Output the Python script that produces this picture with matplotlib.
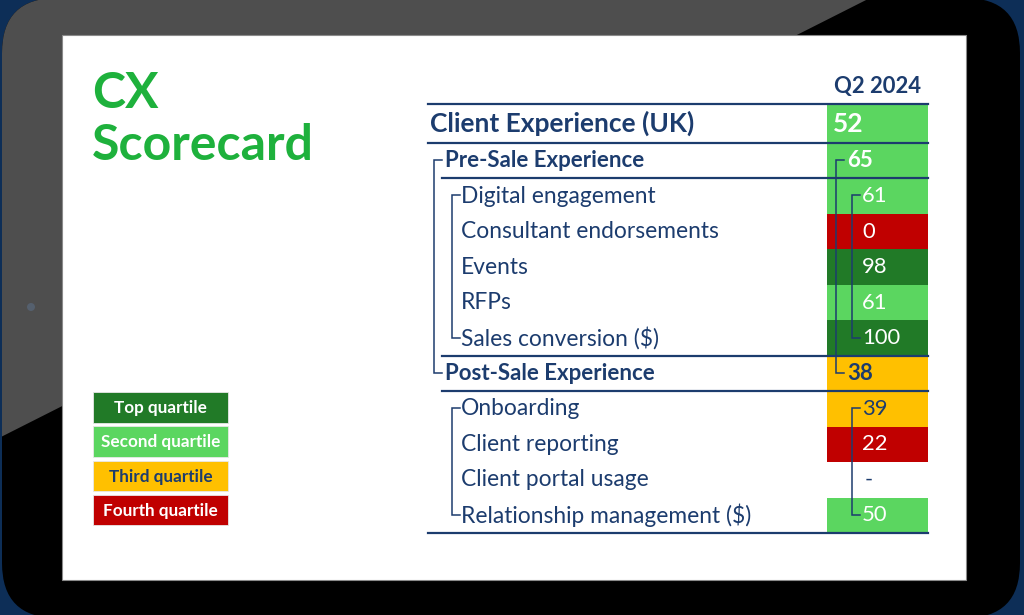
import numpy as np
import matplotlib
matplotlib.use("Agg")
import matplotlib.pyplot as plt
from matplotlib.patches import Rectangle, FancyBboxPatch, Polygon, Circle

plt.rcParams['font.family'] = ['Lato', 'DejaVu Sans']

# data
labels = ["Client Experience (UK)", "Pre-Sale Experience", "Digital engagement",
          "Consultant endorsements", "Events", "RFPs", "Sales conversion ($)",
          "Post-Sale Experience", "Onboarding", "Client reporting",
          "Client portal usage", "Relationship management ($)"]
levels = [0, 1, 2, 2, 2, 2, 2, 1, 2, 2, 2, 2]
values = [52, 65, 61, 0, 98, 61, 100, 38, 39, 22, None, 50]
quartiles = [2, 2, 2, 4, 1, 2, 1, 3, 3, 4, None, 2]
period = "Q2 2024"
legend_labels = ["Top quartile", "Second quartile", "Third quartile", "Fourth quartile"]

# colours
navy = "#1c3c6e"
q_colors = {1: "#217a27", 2: "#5bd660", 3: "#ffc000", 4: "#c00000"}
q_text = {1: "white", 2: "white", 3: navy, 4: "white"}

fig = plt.figure(figsize=(10.24, 6.15), dpi=100)
fig.patch.set_facecolor("#0d2e57")
ax = fig.add_axes([0, 0, 1, 1])
ax.set_xlim(0, 1024)
ax.set_ylim(615, 0)
ax.axis("off")

# tablet body + reflection + screen
body = FancyBboxPatch((2, -2), 1018, 620, boxstyle="round,pad=0,rounding_size=55",
                      fc="black", ec="none", zorder=0)
ax.add_patch(body)
refl = Polygon([(-5, -5), (876, -5), (-5, 440)], closed=True, fc="#4e4e4e", ec="none", zorder=1)
ax.add_patch(refl)
refl.set_clip_path(body)
ax.add_patch(Circle((31, 307), 4, fc="#55606e", ec="none", zorder=1))
ax.add_patch(Rectangle((62, 35), 904, 545, fc="white", ec="#8a8a8a", lw=0.8, zorder=2))

# title
ax.text(92, 93, "CX", color="#1eb13c", fontsize=36, fontweight="bold", va="center", zorder=5)
ax.text(92, 145, "Scorecard", color="#1eb13c", fontsize=36, fontweight="bold", va="center", zorder=5)

# legend
for i, lab in enumerate(legend_labels):
    y0 = 392 + i * 34.3
    ax.add_patch(Rectangle((93, y0), 135, 30.5, fc=q_colors[i + 1], ec="#e8e8e8", lw=0.6, zorder=3))
    ax.text(160.5, y0 + 16, lab, color=q_text[i + 1], fontsize=12.3, fontweight="bold",
            ha="center", va="center", zorder=5)

# table geometry
x_left, x_sub, x_right = 428, 442, 928
cell_x0 = 827
top = 104
head_h = 39
row_h = 35.45
edges = [top, top + head_h] + [top + head_h + row_h * (k + 1) for k in range(len(labels) - 1)]
centers = [(edges[k] + edges[k + 1]) / 2 for k in range(len(labels))]

ax.text(877, 87, period, color=navy, fontsize=15.8, fontweight="bold", ha="center", va="center", zorder=5)

label_x = {0: 430, 1: 445, 2: 461}
value_x = {0: 833, 1: 847, 2: 862}
label_fs = {0: 19, 1: 16, 2: 16.4}
value_fs = {0: 19, 1: 16, 2: 15.8}

for k, lab in enumerate(labels):
    lv = levels[k]
    q = quartiles[k]
    if q is not None:
        ax.add_patch(Rectangle((cell_x0, edges[k]), x_right - cell_x0, edges[k + 1] - edges[k],
                               fc=q_colors[q], ec="none", zorder=3))
    bold = "bold" if lv < 2 else "normal"
    ax.text(label_x[lv], centers[k], lab, color=navy, fontsize=label_fs[lv], fontweight=bold,
            va="center", zorder=5)
    vtxt = "-" if values[k] is None else str(values[k])
    vcol = navy if q is None else q_text[q]
    ax.text(value_x[lv] + (3 if values[k] is None else 0), centers[k], vtxt, color=vcol,
            fontsize=value_fs[lv], fontweight=bold, va="center", zorder=5)

# horizontal rules
lw_rule = 1.6
ax.plot([x_left, x_right], [edges[0], edges[0]], color=navy, lw=lw_rule, zorder=4)
ax.plot([x_left, x_right], [edges[1], edges[1]], color=navy, lw=lw_rule, zorder=4)
ax.plot([x_left, x_right], [edges[-1], edges[-1]], color=navy, lw=lw_rule, zorder=4)
for k, lv in enumerate(levels):
    if lv == 1:
        for e in (edges[k], edges[k + 1]):
            if e != edges[1]:
                ax.plot([x_sub, x_right], [e, e], color=navy, lw=lw_rule, zorder=4)


def bracket(x, y0, y1, tick=8):
    ax.plot([x + tick, x, x, x + tick], [y0, y0, y1, y1], color=navy, lw=1.1, zorder=6,
            solid_joinstyle="miter")


# brackets: level 1 group
l1 = [k for k, lv in enumerate(levels) if lv == 1]
bracket(434, centers[l1[0]] - 1, centers[l1[-1]])
bracket(836, centers[l1[0]] - 1, centers[l1[-1]])
# level 2 groups
groups = []
cur = []
for k, lv in enumerate(levels):
    if lv == 2:
        cur.append(k)
    elif cur:
        groups.append(cur)
        cur = []
if cur:
    groups.append(cur)
for g in groups:
    bracket(452, centers[g[0]] - 1, centers[g[-1]])
    bracket(852, centers[g[0]] - 1, centers[g[-1]])

fig.savefig("out.png", dpi=100, facecolor=fig.get_facecolor())
